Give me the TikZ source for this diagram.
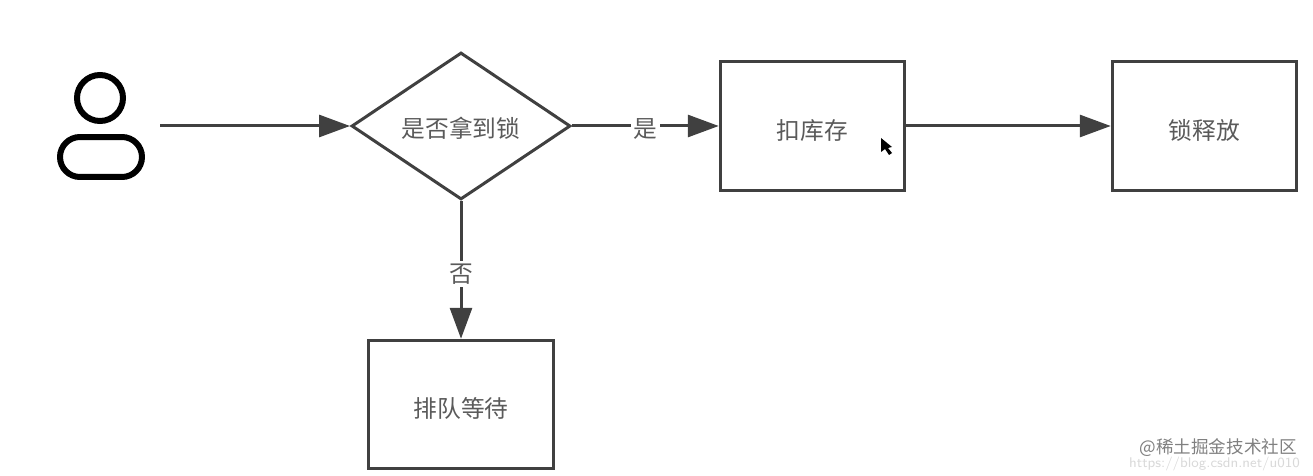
\documentclass[tikz,border=0pt]{standalone}
\usepackage{fontspec}
\newfontfamily\cjk{Noto Sans CJK SC}
\usetikzlibrary{arrows.meta,shapes.geometric}
\definecolor{lineGray}{HTML}{404040}
\definecolor{textGray}{HTML}{5A5A5A}
\tikzset{
  box/.style={draw=lineGray, line width=0.06cm, fill=white, minimum width=3.69cm, minimum height=2.57cm, inner sep=0, text=textGray, text height=0.62cm, text depth=0.09cm, font=\cjk\fontsize{13.5pt}{15pt}\selectfont},
  decision/.style={box, diamond, aspect=1.49, text height=0.5cm, text depth=0.05cm, minimum width=4.38cm, minimum height=2.94cm},
  edgelabel/.style={fill=white, inner sep=1.5pt, text=textGray, font=\cjk\fontsize{13.5pt}{15pt}\selectfont},
  link/.style={draw=lineGray, line width=0.06cm, -{Triangle[length=0.62cm, width=0.44cm]}},
  persona/.style={draw=black, line width=0.12cm, inner sep=0}
}
\begin{document}
\begin{tikzpicture}[x=0.02cm, y=-0.02cm]
  \useasboundingbox (0, 0) rectangle (1313, 476);

% person
  \node[persona, circle, minimum size=0.92cm] (head) at (100, 98) {};
  \node[persona, rounded corners=0.4cm, minimum width=1.64cm, minimum height=0.8cm] (body) at (101, 157) {};
  \coordinate (start) at (160, 126);

  % steps
  \node[decision] (lock) at (461, 126) {是否拿到锁};
  \node[box] (stock) at (812.5, 126) {扣库存};
  \node[box] (release) at (1204.5, 126) {锁释放};
  \node[box] (queue) at (461, 404.5) {排队等待};

  % links
  \draw[link] (start) -- (lock.west);
  \draw[link] (lock.east) -- node[edgelabel, yshift=-0.06cm] (yes) {是} (stock.west);
  \draw[link] (stock.east) -- (release.west);
  \draw[link] (lock.south) -- node[edgelabel, yshift=-0.08cm] (no) {否} (queue.north);

  % cursor
  \fill[black] (881, 138) -- (881, 152) -- (885, 149) -- (889, 155) -- (892, 153) -- (888, 148) -- (892, 147) -- cycle;

  % watermark
  \node[text=gray!30, font=\sffamily\fontsize{8pt}{9pt}\selectfont, anchor=east] (url) at (1306, 464) {https://blog.csdn.net/u010};
  \node[text=gray, font=\cjk\fontsize{10pt}{12pt}\selectfont, anchor=east] (mark) at (1303, 448) {@稀土掘金技术社区};
\end{tikzpicture}
\end{document}
